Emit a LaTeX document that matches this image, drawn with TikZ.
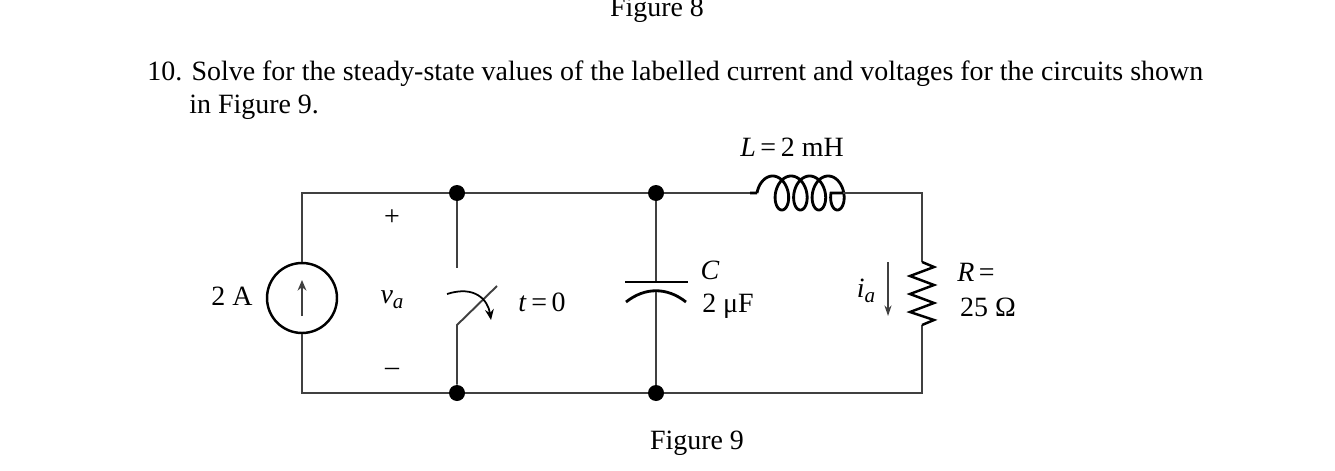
\documentclass[tikz,border=0pt]{standalone}
\usepackage{fontspec}
\setmainfont{Liberation Serif}
\usetikzlibrary{arrows.meta}
\begin{document}
\begin{tikzpicture}[x=0.02cm,y=-0.02cm,
  wire/.style={line width=1.1pt,black!75},
  dot/.style={circle,fill=black,inner sep=0pt,minimum size=0.32cm},
  lbl/.style={font=\fontsize{15.9}{18}\selectfont,inner sep=0pt},
  sub/.style={}]
\useasboundingbox (0,0) rectangle (1335,470);
\node[lbl,anchor=base] (f8) at (657,16) {Figure 8};
\node[lbl,anchor=base west] (q1) at (147,80) {10. Solve for the steady-state values of the labelled current and voltages for the circuits shown};
\node[lbl,anchor=base west] (q2) at (189,113) {in Figure 9.};
\node[lbl,anchor=base] (f9) at (697,449) {Figure 9};
% nodes
\node[dot] (s1) at (457,193) {};
\node[dot] (s2) at (457,393) {};
\node[dot] (c1) at (656,193) {};
\node[dot] (c2) at (656,393) {};
\coordinate (tl) at (302,193);
\coordinate (bl) at (302,393);
\coordinate (tr) at (922,193);
\coordinate (br) at (922,393);
\node[circle,draw,line width=1.4pt,minimum size=1.4cm,inner sep=0pt] (src) at (302,298) {};
\draw[wire] (src.north) -- (tl) -- (s1) -- (c1) -- (750,193);
\draw[wire] (src.south) -- (bl) -- (s2) -- (c2) -- (br) -- (922,325);
\draw[line width=1pt,black!75,-{Stealth[length=6pt,width=5pt]}] (302,316) -- (302,280);
% switch
\draw[wire] (s1) -- (457,268);
\draw[wire] (s2) -- (457,325) -- (497,286);
\draw[line width=1pt,-{Stealth[length=6pt,width=5pt]}] (447,294) .. controls (475,285) and (488,300) .. (491,320);
% capacitor
\draw[wire] (c1) -- (656,282);
\draw[line width=1.6pt] (625,282) -- (688,282);
\draw[line width=1.6pt] (626,302) .. controls (645,287) and (667,287) .. (686,302);
\draw[wire] (656,292) -- (c2);
% inductor
\draw[line width=1.6pt] (750,193) -- (757,193)
  plot[domain=0:1440,samples=300,smooth] ({768+0.0514*\x-11*cos(\x)},{193-17*sin(\x)}) -- (843,193);
\draw[wire] (843,193) -- (tr) -- (922,262);
% resistor
\draw[line width=1.4pt] (922,262) -- (934,267) -- (910,276) -- (934,285) -- (910,294) -- (934,303) -- (910,312) -- (934,320) -- (922,325);
\draw[line width=0.8pt,black!75,-{Stealth[length=6pt,width=4pt]}] (888,262) -- (888,316);
% labels
\node[lbl] (L) at (792,147) {\textit{L}\,=\,2 mH};
\node[lbl] (C) at (710,270) {\textit{C}};
\node[lbl] (Cv) at (728,306) {2 μF};
\node[lbl] (ia) at (866,291) {\textit{i}\raisebox{-0.4ex}{\fontsize{12}{14}\selectfont\textit{a}}};
\node[lbl] (R) at (976,272) {\textit{R}\,=};
\node[lbl] (Rv) at (988,307) {25 Ω};
\node[lbl] (A) at (232,296) {2 A};
\node[lbl] (p) at (392,218) {+};
\node[lbl] (va) at (392,300) {\textit{v}\raisebox{-0.4ex}{\fontsize{12}{14}\selectfont\textit{a}}};
\node[lbl] (m) at (392,372) {–};
\node[lbl] (t0) at (542,302) {\textit{t}\,=\,0};
\end{tikzpicture}
\end{document}
